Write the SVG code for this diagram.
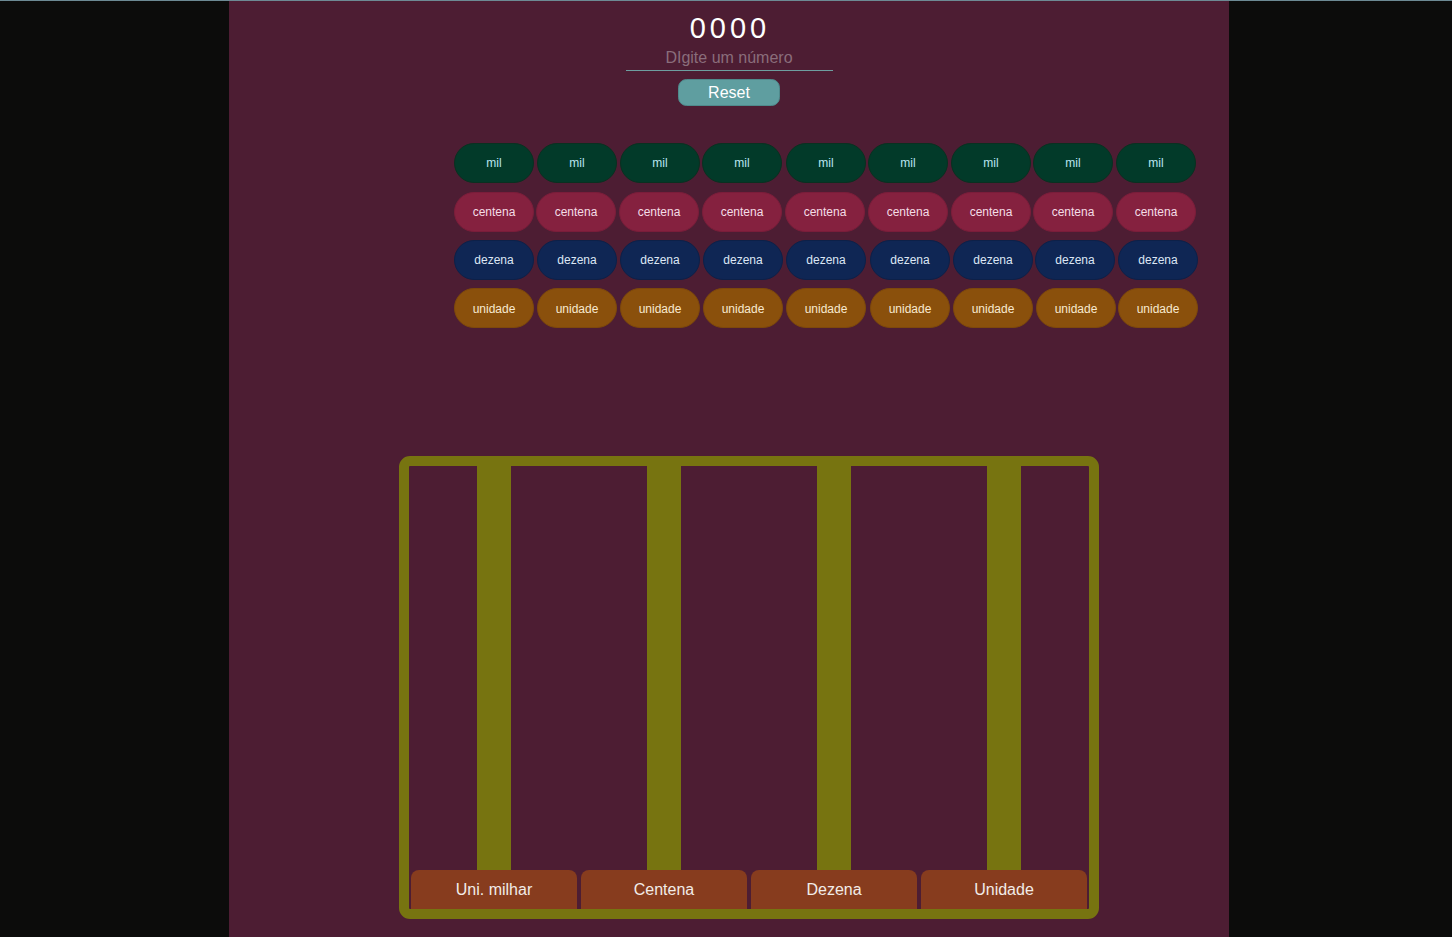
<svg xmlns="http://www.w3.org/2000/svg" width="1452" height="937" viewBox="0 0 1452 937">
<style>
text{font-family:"Liberation Sans",Arial,sans-serif;text-anchor:middle}
.b text{font-size:12px}
.m rect{fill:#023a29;stroke:#0a3020}
.m text{fill:#b9e6f0}
.c rect{fill:#85213f;stroke:#7a1d3a}
.c text{fill:#f4dde6}
.d rect{fill:#0f2654;stroke:#0d2048}
.d text{fill:#dde6f5}
.u rect{fill:#8a500c;stroke:#7d480b}
.u text{fill:#f8ead0}
.rod{fill:#777410}
.lab path{fill:#873c1e}
.lab text{fill:#f2ece8;font-size:16px}
</style>
<rect width="1452" height="937" fill="#0c0c0b"/>
<rect x="229" y="1" width="1000" height="936" fill="#4d1d33"/>
<rect x="0" y="0" width="1452" height="1" fill="#6d8a94"/>
<g id="display"><text x="730" y="38" fill="#fff" font-size="29" letter-spacing="4">0000</text></g>
<g id="input"><text x="729" y="63" fill="#8a6d7b" font-size="16">DIgite um número</text><rect x="626" y="70" width="207" height="1" fill="#6e9ea0"/></g>
<g id="reset"><rect x="678.5" y="79.5" width="101" height="26" rx="8" fill="#5f9ea0" stroke="#4f8a8c"/><text x="729" y="98" fill="#fff" font-size="16">Reset</text></g>
<g class="b m" id="mil">
<g><rect x="454.5" y="143.5" width="79" height="39" rx="19.5"/><text x="494" y="167">mil</text></g>
<g><rect x="537.5" y="143.5" width="79" height="39" rx="19.5"/><text x="577" y="167">mil</text></g>
<g><rect x="620.5" y="143.5" width="79" height="39" rx="19.5"/><text x="660" y="167">mil</text></g>
<g><rect x="702.5" y="143.5" width="79" height="39" rx="19.5"/><text x="742" y="167">mil</text></g>
<g><rect x="786.5" y="143.5" width="79" height="39" rx="19.5"/><text x="826" y="167">mil</text></g>
<g><rect x="868.5" y="143.5" width="79" height="39" rx="19.5"/><text x="908" y="167">mil</text></g>
<g><rect x="951.5" y="143.5" width="79" height="39" rx="19.5"/><text x="991" y="167">mil</text></g>
<g><rect x="1033.5" y="143.5" width="79" height="39" rx="19.5"/><text x="1073" y="167">mil</text></g>
<g><rect x="1116.5" y="143.5" width="79" height="39" rx="19.5"/><text x="1156" y="167">mil</text></g>
</g>
<g class="b c" id="centena">
<g><rect x="454.5" y="192.5" width="79" height="39" rx="19.5"/><text x="494" y="216">centena</text></g>
<g><rect x="536.5" y="192.5" width="79" height="39" rx="19.5"/><text x="576" y="216">centena</text></g>
<g><rect x="619.5" y="192.5" width="79" height="39" rx="19.5"/><text x="659" y="216">centena</text></g>
<g><rect x="702.5" y="192.5" width="79" height="39" rx="19.5"/><text x="742" y="216">centena</text></g>
<g><rect x="785.5" y="192.5" width="79" height="39" rx="19.5"/><text x="825" y="216">centena</text></g>
<g><rect x="868.5" y="192.5" width="79" height="39" rx="19.5"/><text x="908" y="216">centena</text></g>
<g><rect x="951.5" y="192.5" width="79" height="39" rx="19.5"/><text x="991" y="216">centena</text></g>
<g><rect x="1033.5" y="192.5" width="79" height="39" rx="19.5"/><text x="1073" y="216">centena</text></g>
<g><rect x="1116.5" y="192.5" width="79" height="39" rx="19.5"/><text x="1156" y="216">centena</text></g>
</g>
<g class="b d" id="dezena">
<g><rect x="454.5" y="240.5" width="79" height="39" rx="19.5"/><text x="494" y="264">dezena</text></g>
<g><rect x="537.5" y="240.5" width="79" height="39" rx="19.5"/><text x="577" y="264">dezena</text></g>
<g><rect x="620.5" y="240.5" width="79" height="39" rx="19.5"/><text x="660" y="264">dezena</text></g>
<g><rect x="703.5" y="240.5" width="79" height="39" rx="19.5"/><text x="743" y="264">dezena</text></g>
<g><rect x="786.5" y="240.5" width="79" height="39" rx="19.5"/><text x="826" y="264">dezena</text></g>
<g><rect x="870.5" y="240.5" width="79" height="39" rx="19.5"/><text x="910" y="264">dezena</text></g>
<g><rect x="953.5" y="240.5" width="79" height="39" rx="19.5"/><text x="993" y="264">dezena</text></g>
<g><rect x="1035.5" y="240.5" width="79" height="39" rx="19.5"/><text x="1075" y="264">dezena</text></g>
<g><rect x="1118.5" y="240.5" width="79" height="39" rx="19.5"/><text x="1158" y="264">dezena</text></g>
</g>
<g class="b u" id="unidade">
<g><rect x="454.5" y="288.5" width="79" height="39" rx="19.5"/><text x="494" y="313">unidade</text></g>
<g><rect x="537.5" y="288.5" width="79" height="39" rx="19.5"/><text x="577" y="313">unidade</text></g>
<g><rect x="620.5" y="288.5" width="79" height="39" rx="19.5"/><text x="660" y="313">unidade</text></g>
<g><rect x="703.5" y="288.5" width="79" height="39" rx="19.5"/><text x="743" y="313">unidade</text></g>
<g><rect x="786.5" y="288.5" width="79" height="39" rx="19.5"/><text x="826" y="313">unidade</text></g>
<g><rect x="870.5" y="288.5" width="79" height="39" rx="19.5"/><text x="910" y="313">unidade</text></g>
<g><rect x="953.5" y="288.5" width="79" height="39" rx="19.5"/><text x="993" y="313">unidade</text></g>
<g><rect x="1036.5" y="288.5" width="79" height="39" rx="19.5"/><text x="1076" y="313">unidade</text></g>
<g><rect x="1118.5" y="288.5" width="79" height="39" rx="19.5"/><text x="1158" y="313">unidade</text></g>
</g>
<g id="abacus">
<rect x="404" y="461" width="690" height="453" rx="6" fill="none" stroke="#777410" stroke-width="10"/>
<rect class="rod" x="477" y="466" width="34" height="406"/>
<rect class="rod" x="647" y="466" width="34" height="406"/>
<rect class="rod" x="817" y="466" width="34" height="406"/>
<rect class="rod" x="987" y="466" width="34" height="406"/>
<g class="lab">
<g><path d="M411 909V878a8 8 0 0 1 8-8h150a8 8 0 0 1 8 8v31z"/><text x="494" y="895">Uni. milhar</text></g>
<g><path d="M581 909V878a8 8 0 0 1 8-8h150a8 8 0 0 1 8 8v31z"/><text x="664" y="895">Centena</text></g>
<g><path d="M751 909V878a8 8 0 0 1 8-8h150a8 8 0 0 1 8 8v31z"/><text x="834" y="895">Dezena</text></g>
<g><path d="M921 909V878a8 8 0 0 1 8-8h150a8 8 0 0 1 8 8v31z"/><text x="1004" y="895">Unidade</text></g>
</g>
</g>
</svg>
